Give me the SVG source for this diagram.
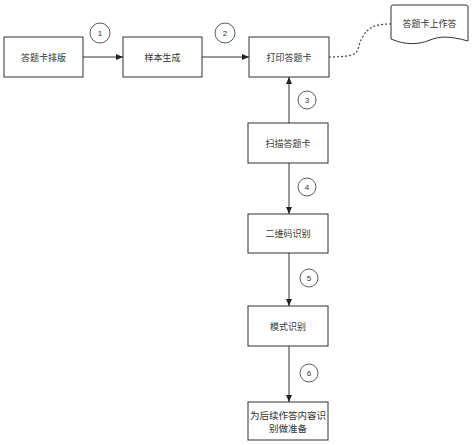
<svg xmlns="http://www.w3.org/2000/svg" width="474" height="445" viewBox="0 0 474 445">
<style>
.box{fill:#fff;stroke:#333;stroke-width:1}
.t{font-family:"Noto Sans CJK SC","Liberation Sans",sans-serif;font-size:9px;fill:#333;text-anchor:middle;dominant-baseline:central}
.tl{font-size:9.5px}
.c{fill:#fff;stroke:#333;stroke-width:0.8}
.ct{font-family:"Liberation Sans",sans-serif;font-size:8px;fill:#333;text-anchor:middle;dominant-baseline:central}
.ln{stroke:#333;stroke-width:1;fill:none;marker-end:url(#ah)}
</style>
<defs>
<marker id="ah" markerWidth="8" markerHeight="8" refX="7" refY="4" orient="auto" markerUnits="userSpaceOnUse">
<path d="M0,1 L7,4 L0,7 Z" fill="#222"/>
</marker>
</defs>
<rect width="474" height="445" fill="#fff"/>
<g id="connectors">
<line class="ln" x1="83" y1="57" x2="123" y2="57"/>
<line class="ln" x1="202" y1="57" x2="249" y2="57"/>
<line class="ln" x1="289" y1="123" x2="289" y2="77"/>
<line class="ln" x1="289" y1="163" x2="289" y2="214"/>
<line class="ln" x1="289" y1="253" x2="289" y2="306"/>
<line class="ln" x1="289" y1="346" x2="289" y2="402"/>
<path d="M329,57 C365,57 355,50 362,38 C368,27 375,24 391,24" stroke="#444" stroke-width="1.2" stroke-dasharray="2,2" fill="none"/>
</g>
<g id="n1"><rect class="box" x="4" y="37" width="79" height="40"/><text class="t" x="43.5" y="57">答题卡排版</text></g>
<g id="n2"><rect class="box" x="123" y="37" width="79" height="40"/><text class="t" x="162.5" y="57">样本生成</text></g>
<g id="n3"><rect class="box" x="249" y="37" width="80" height="40"/><text class="t" x="289" y="57">打印答题卡</text></g>
<g id="n4"><path d="M393,5 L466,5 Q468,5 468,7 L468,41 C450,36 440,36 430,40 C418,45 405,45 391,39 L391,7 Q391,5 393,5 Z" fill="#fff" stroke="#333" stroke-width="1"/><text class="t" x="429.5" y="23">答题卡上作答</text></g>
<g id="n5"><rect class="box" x="248" y="123" width="80" height="40"/><text class="t" x="288" y="143">扫描答题卡</text></g>
<g id="n6"><rect class="box" x="248" y="214" width="80" height="39"/><text class="t" x="288" y="233.5">二维码识别</text></g>
<g id="n7"><rect class="box" x="248" y="306" width="80" height="40"/><text class="t" x="288" y="326">模式识别</text></g>
<g id="n8"><rect class="box" x="248" y="402" width="80" height="38"/><text class="t tl" x="288" y="414.5">为后续作答内容识</text><text class="t tl" x="288" y="427.5">别做准备</text></g>
<g id="labels">
<circle class="c" cx="100" cy="33" r="10"/><text class="ct" x="100" y="33">1</text>
<circle class="c" cx="225" cy="33" r="10"/><text class="ct" x="225" y="33">2</text>
<circle class="c" cx="307" cy="100" r="9"/><text class="ct" x="307" y="100">3</text>
<circle class="c" cx="307" cy="187" r="9"/><text class="ct" x="307" y="187">4</text>
<circle class="c" cx="309" cy="278" r="9"/><text class="ct" x="309" y="278">5</text>
<circle class="c" cx="309" cy="373" r="9"/><text class="ct" x="309" y="373">6</text>
</g>
</svg>
